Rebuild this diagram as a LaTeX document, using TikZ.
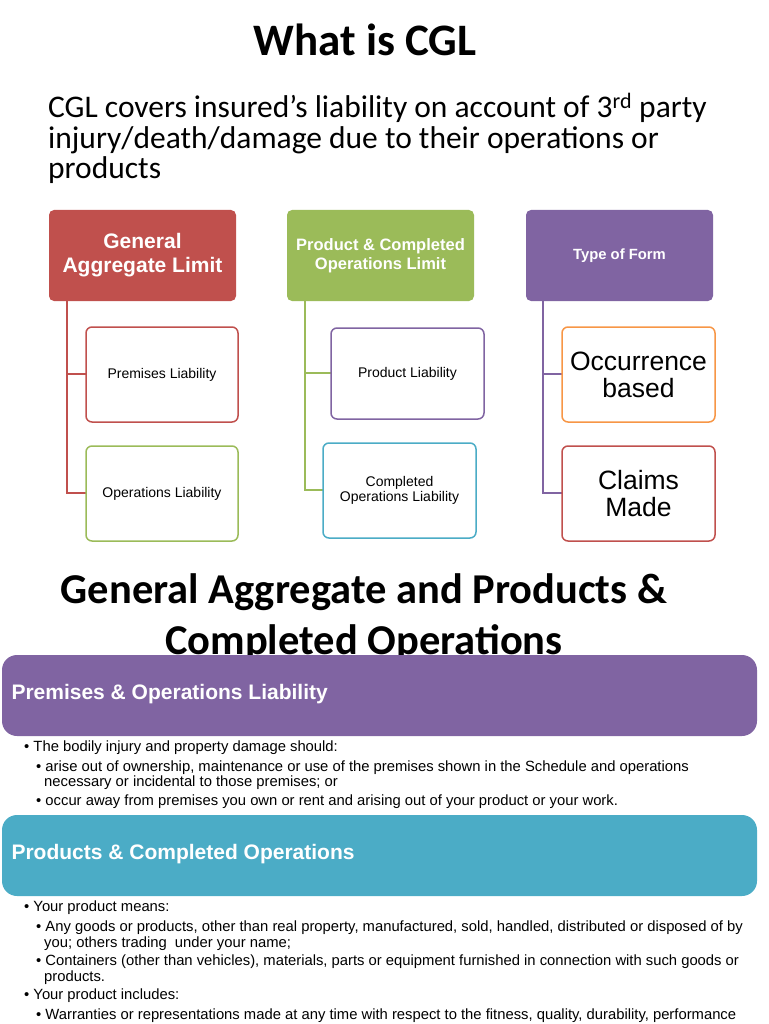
\documentclass[tikz,border=0pt]{standalone}
\usepackage{fontspec}
\setmainfont{Liberation Sans}
\newfontfamily\calfnt{Carlito}
\definecolor{cred}{HTML}{C0504D}
\definecolor{cgreen}{HTML}{9BBB59}
\definecolor{cpurp}{HTML}{8064A2}
\definecolor{cblue}{HTML}{4BACC6}
\definecolor{corange}{HTML}{F79646}
\begin{document}
\begin{tikzpicture}[x=1pt,y=-1pt,
  head/.style={rounded corners=5pt,inner sep=0pt,text=white,font=\bfseries,align=center},
  child/.style={draw,line width=1.5pt,rounded corners=6pt,fill=white,inner sep=0pt,align=center,font=\fontsize{14}{15}\selectfont},
  conn/.style={line width=1.5pt},
  banner/.style={rounded corners=15pt,inner sep=0pt},
  bt/.style={anchor=base west,inner sep=0pt,font=\fontsize{14.8}{16}\selectfont}]
\useasboundingbox (0,0) rectangle (768,1024);
\clip (0,0) rectangle (768,1024);
\node[font=\calfnt\bfseries\fontsize{45}{46}\selectfont] (t1) at (365,40) {What is CGL};
\node[anchor=base west,inner sep=0pt,font=\calfnt\fontsize{31.5}{32}\selectfont] (p1) at (48,118) {CGL covers insured’s liability on account of 3\textsuperscript{rd} party};
\node[anchor=base west,inner sep=0pt,font=\calfnt\fontsize{31.5}{32}\selectfont] (p2) at (48,149) {injury/death/damage due to their operations or};
\node[anchor=base west,inner sep=0pt,font=\calfnt\fontsize{31.5}{32}\selectfont] (p3) at (48,179) {products};
% column 1
\draw[conn,cred] (67,301) |- (86,374) (67,374) |- (86,493);
\node[head,fill=cred,minimum width=187pt,minimum height=91pt,font=\bfseries\fontsize{21}{24}\selectfont] (g) at (142.5,255.5) {General\\Aggregate Limit};
\node[child,draw=cred,minimum width=152pt,minimum height=95pt] (c1) at (162,374.5) {Premises Liability};
\node[child,draw=cgreen,minimum width=152pt,minimum height=95pt] (c2) at (162,493.5) {Operations Liability};
% column 2
\draw[conn,cgreen] (305,301) |- (331,373) (305,373) |- (323,490);
\node[head,fill=cgreen,minimum width=187pt,minimum height=91pt,font=\bfseries\fontsize{16.5}{18.5}\selectfont] (p) at (380.5,255.5) {Product \& Completed\\Operations Limit};
\node[child,draw=cpurp,minimum width=153pt,minimum height=91pt] (c3) at (407.5,373.5) {Product Liability};
\node[child,draw=cblue,minimum width=153pt,minimum height=95pt] (c4) at (399.5,490.5) {Completed\\Operations Liability};
% column 3
\draw[conn,cpurp] (543,301) |- (562,374) (543,374) |- (562,493);
\node[head,fill=cpurp,minimum width=187pt,minimum height=91pt,font=\bfseries\fontsize{14.8}{17}\selectfont] (f) at (619.5,255.5) {Type of Form};
\node[child,draw=corange,minimum width=153pt,minimum height=95pt,font=\fontsize{26.5}{27}\selectfont] (c5) at (638.5,374.5) {Occurrence\\based};
\node[child,draw=cred,minimum width=153pt,minimum height=95pt,font=\fontsize{26.5}{27}\selectfont] (c6) at (638.5,493.5) {Claims\\Made};
% title 2
\node[font=\calfnt\bfseries\fontsize{42.5}{44}\selectfont] (t2) at (364,592) {General Aggregate and Products \&};
\node[font=\calfnt\bfseries\fontsize{42.5}{44}\selectfont] (t3) at (364,643) {Completed Operations};
\node[banner,fill=cpurp,minimum width=755pt,minimum height=81pt] (b1) at (379.5,695.5) {};
\node[anchor=west,text=white,font=\bfseries\fontsize{21}{22}\selectfont] at (8,694) {Premises \& Operations Liability};
\node[bt] at (24,751) {• The bodily injury and property damage should:};
\node[bt] at (36,771) {• arise out of ownership, maintenance or use of the premises shown in the Schedule and operations};
\node[bt] at (44,786) {necessary or incidental to those premises; or};
\node[bt] at (36,805) {• occur away from premises you own or rent and arising out of your product or your work.};
\node[banner,fill=cblue,minimum width=755pt,minimum height=81pt] (b2) at (379.5,855.5) {};
\node[anchor=west,text=white,font=\bfseries\fontsize{21}{22}\selectfont] at (8,854) {Products \& Completed Operations};
\node[bt] at (24,911) {• Your product means:};
\node[bt] at (36,931) {• Any goods or products, other than real property, manufactured, sold, handled, distributed or disposed of by};
\node[bt] at (44,947) {you; others trading\ \ under your name;};
\node[bt] at (36,965) {• Containers (other than vehicles), materials, parts or equipment furnished in connection with such goods or};
\node[bt] at (44,981) {products.};
\node[bt] at (24,999) {• Your product includes:};
\node[bt] at (36,1019) {• Warranties or representations made at any time with respect to the fitness, quality, durability, performance};
\node[bt] at (44,1035) {or use of your product; and the providing of or failure to provide warnings or instructions.};
\end{tikzpicture}
\end{document}
